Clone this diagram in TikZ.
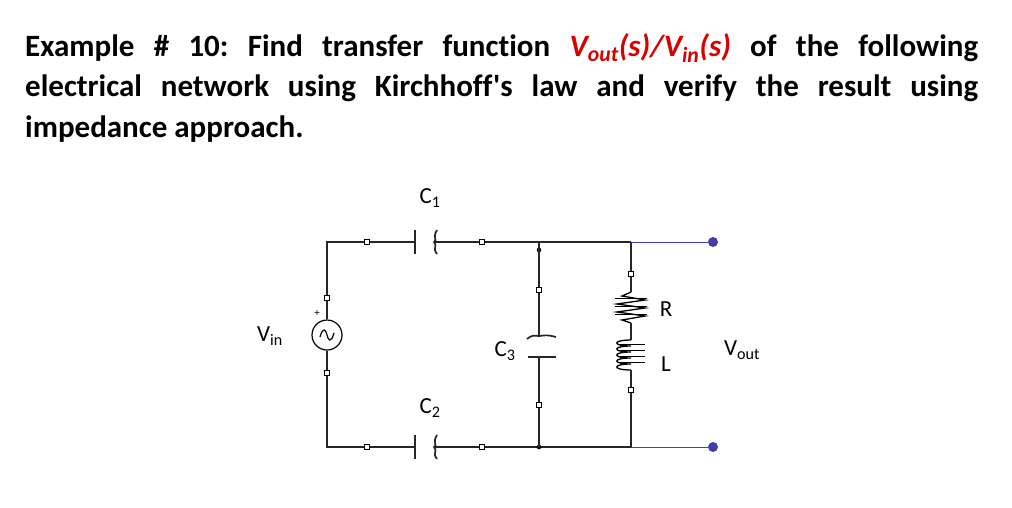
\documentclass[tikz,border=0pt]{standalone}
\usepackage{fontspec}
\setmainfont{Carlito}[Ligatures={TeXOff,NoCommon}]
\frenchspacing
\begin{document}
\begin{tikzpicture}[x=1pt,y=-1pt,
  wire/.style={line width=1.7pt,black!85},
  term/.style={draw=black,fill=white,line width=1pt,minimum size=5pt,inner sep=0pt},
  bluedot/.style={circle,fill=blue!45!gray!90!black,minimum size=10pt,inner sep=0pt},
  lbl/.style={font=\fontsize{23}{25}\selectfont,inner sep=0pt}]
\useasboundingbox (0,0) rectangle (1012,507);
\fill[white] (0,0) rectangle (1012,507);
\node[anchor=north west,text width=953pt,align=justify,inner sep=0pt,
  font=\fontsize{31}{40.5}\selectfont\bfseries] (title) at (25,33)
 {Example \# 10: Find transfer function {\color{red!85!black}\itshape V\textsubscript{out}(s)/V\textsubscript{in}(s)} of the following\linebreak electrical network using Kirchhoff's law and verify the result using\linebreak impedance approach.};
% coordinates
\coordinate (tl) at (327,242); \coordinate (bl) at (327,447);
\coordinate (j1) at (539,242); \coordinate (j2) at (539,447);
\coordinate (tr) at (631,242); \coordinate (br) at (631,447);
\node[bluedot] (o1) at (713,242) {};
\node[bluedot] (o2) at (713,447) {};
\draw[blue!50!gray,line width=1pt] (tr) -- (o1);
\draw[blue!50!gray,line width=1pt] (br) -- (o2);
% source
\node[circle,draw,line width=1.2pt,minimum size=30pt] (src) at (327,335) {};
\draw[line width=1.2pt] (320,337) .. controls (323,326) and (326,330) .. (327,335) .. controls (328,340) and (331,344) .. (334,333);
\node[font=\fontsize{11}{11}\selectfont] at (317,313) {+};
\draw[wire] (src.south) -- (bl) -- (386,447);
\draw[wire] (src.north) -- (tl) -- (386,242);
\node[term] at (327,298) {}; \node[term] at (327,373) {};
% C1 and C2
\foreach \y in {242,447}{
  \draw[wire] (367,\y) -- (415,\y);
  \draw[wire] (415,\y-12) -- (415,\y+12);
  \draw[wire] (437,\y-12) .. controls (432,\y-4) and (438,\y-2) .. (434,\y) .. controls (438,\y+4) and (432,\y+6) .. (437,\y+12);
  \draw[wire] (434,\y) -- (539,\y);
  \node[term] at (367,\y) {}; \node[term] at (482,\y) {};
}
\draw[wire] (j1) -- (tr); \draw[wire] (j2) -- (br);
% C3
\fill (539,250) circle (2.3pt); \fill (j2) circle (2.3pt);
\draw[wire] (j1) -- (539,336);
\draw[wire] (527,339) .. controls (533,334) and (535,336) .. (539,336) .. controls (543,336) and (545,334) .. (556,337);
\draw[wire] (528,357) -- (556,357);
\draw[wire] (539,357) -- (j2);
\node[term] at (539,290) {}; \node[term] at (539,405) {};
% R and L
\draw[wire] (tr) -- (631,292);
\draw[line width=1.3pt] (631,292) -- (622,296) -- (645,300) -- (617,304) -- (645,308) -- (617,312) -- (645,316) -- (622,320) -- (631,323);
\foreach \yy in {298,306,314}{\draw[line width=1pt] (615,\yy) -- (647,\yy);}
\draw[wire] (631,323) -- (631,340);
\draw[line width=1.3pt] (631,340) .. controls (612,340) and (612,346) .. (631,346) .. controls (612,346) and (612,352) .. (631,352) .. controls (612,352) and (612,358) .. (631,358) .. controls (612,358) and (612,364) .. (631,364) .. controls (612,364) and (612,370) .. (631,370);
\foreach \yy in {344,350,356,362}{\draw[line width=1pt] (618,\yy) -- (645,\yy);}
\draw[wire] (631,370) -- (br);
\node[term] at (631,274) {}; \node[term] at (631,390) {};
% labels
\node[lbl] (lc1) at (430,198) {C\textsubscript{1}};
\node[lbl] (lc2) at (430,408) {C\textsubscript{2}};
\node[lbl] (lc3) at (505,351) {C\textsubscript{3}};
\node[lbl] (lr) at (666,309) {R};
\node[lbl] (ll) at (666,364) {L};
\node[lbl] (lvin) at (270,336) {V\textsubscript{in}};
\node[lbl] (lvout) at (742,350) {V\textsubscript{out}};
\end{tikzpicture}
\end{document}
